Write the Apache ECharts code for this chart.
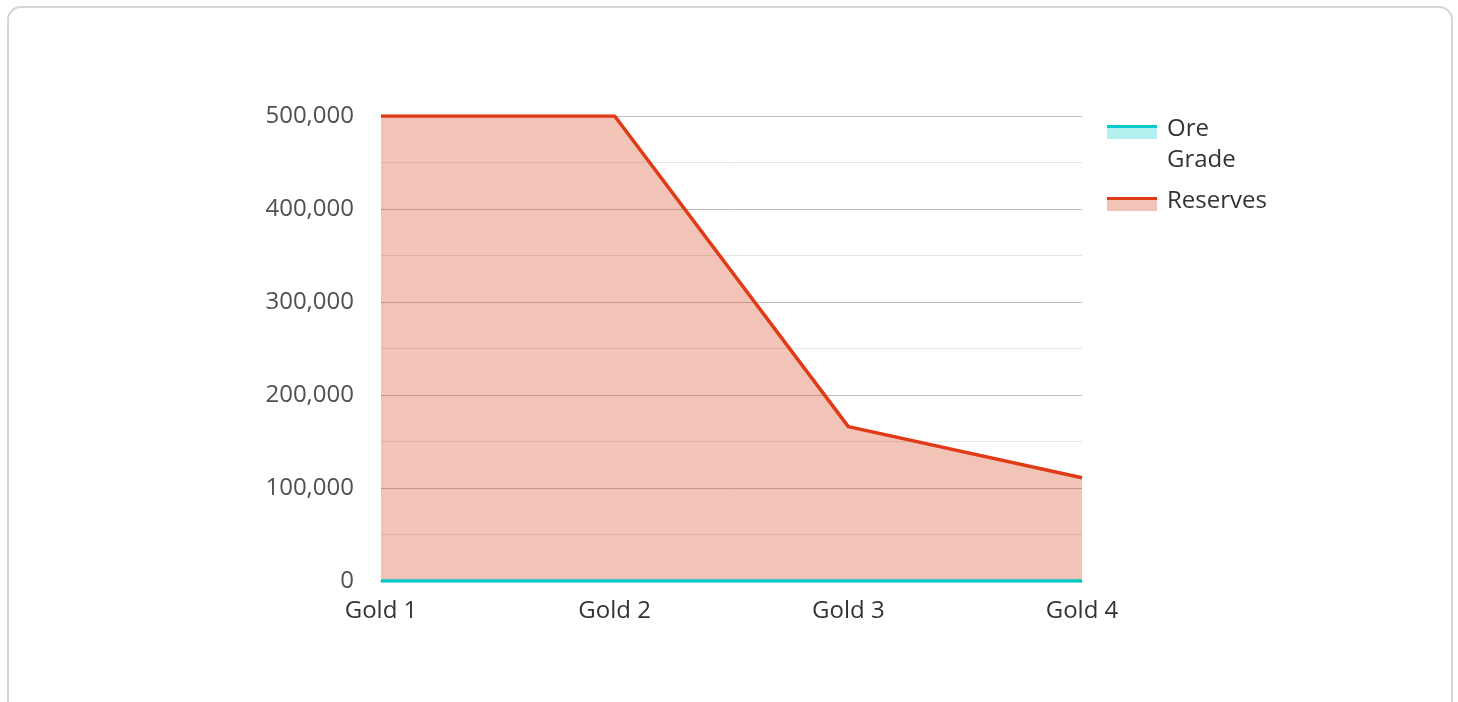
<!DOCTYPE html>
<html>
<head>
<meta charset="utf-8">
<script src="https://cdn.jsdelivr.net/npm/echarts@6/dist/echarts.min.js"></script>
<style>
  html, body { margin: 0; padding: 0; background: #fff; }
  .card {
    position: absolute; left: 7px; top: 6px; width: 1446px; height: 720px;
    border: 2px solid #d6d6d6; border-radius: 14px; box-sizing: border-box;
  }
  #main { position: absolute; left: 0; top: 0; width: 1458px; height: 702px; }
</style>
</head>
<body>
<div class="card"></div>
<div id="main"></div>
<script>
// chart data
const mines = ['Gold 1', 'Gold 2', 'Gold 3', 'Gold 4']
const oreGrade = [3.2, 2.8, 4.1, 5.0]
const reserves = [500000, 500000, 166000, 111000]

const cyan = '#00c9c9'
const red = '#e03a16'

// two-tone legend icon: coloured stroke on top, pale fill below
function legendIcon (stroke, fill, h) {
    const svg = '<svg xmlns="http://www.w3.org/2000/svg" width="55" height="' + h + '" viewBox="0 0 55 ' + h + '">' +
        '<rect x="0" y="11" width="50" height="14" fill="' + fill + '"/>' +
        '<rect x="0" y="11" width="50" height="3" fill="' + stroke + '"/></svg>'
    return 'image://data:image/svg+xml;charset=utf-8,' + encodeURIComponent(svg)
}

const legendText = { fontFamily: 'Open Sans', fontSize: 24, color: '#333', lineHeight: 31 }

const chart = echarts.init(document.getElementById('main'))
chart.setOption({
    animation: false,
    textStyle: { fontFamily: 'Open Sans' },
    grid: { left: 381, right: 376, top: 116, bottom: 121, containLabel: false },
    legend: [{
        orient: 'vertical', left: 1107, top: 114, padding: 0,
        itemWidth: 55, itemHeight: 62,
        data: [{ name: 'Ore Grade', icon: legendIcon(cyan, 'rgba(0,201,201,0.3)', 62) }],
        formatter: name => name.replace(' ', '\n'),
        textStyle: legendText
    }, {
        orient: 'vertical', left: 1107, top: 186, padding: 0,
        itemWidth: 55, itemHeight: 31,
        data: [{ name: 'Reserves', icon: legendIcon(red, 'rgba(212,55,18,0.3)', 31) }],
        textStyle: legendText
    }],
    xAxis: {
        type: 'category',
        data: mines,
        boundaryGap: false,
        axisLine: { lineStyle: { color: '#333', width: 1 } },
        axisTick: { show: false },
        axisLabel: { fontSize: 24, color: '#333', margin: 18 },
        splitLine: { show: false }
    },
    yAxis: {
        type: 'value',
        min: 0,
        max: 500000,
        interval: 100000,
        axisLine: { show: false },
        axisTick: { show: false },
        axisLabel: {
            fontSize: 24, color: '#505050', margin: 27,
            formatter: v => v.toLocaleString('en-US')
        },
        splitLine: { lineStyle: { color: '#bdbdbd', width: 1 } },
        minorTick: { show: false, splitNumber: 2 },
        minorSplitLine: { show: true, lineStyle: { color: '#e6e6e6', width: 1 } }
    },
    series: [{
        name: 'Ore Grade',
        type: 'line',
        data: oreGrade,
        z: 3,
        showSymbol: false,
        symbol: 'none',
        lineStyle: { color: cyan, width: 3.5 },
        itemStyle: { color: cyan },
        areaStyle: { color: 'rgba(0,201,201,0.3)' }
    }, {
        name: 'Reserves',
        type: 'line',
        data: reserves,
        z: 2,
        showSymbol: false,
        symbol: 'none',
        lineStyle: { color: red, width: 3.5 },
        itemStyle: { color: red },
        areaStyle: { color: 'rgba(212,55,18,0.3)', opacity: 1 }
    }]
})
</script>
</body>
</html>
